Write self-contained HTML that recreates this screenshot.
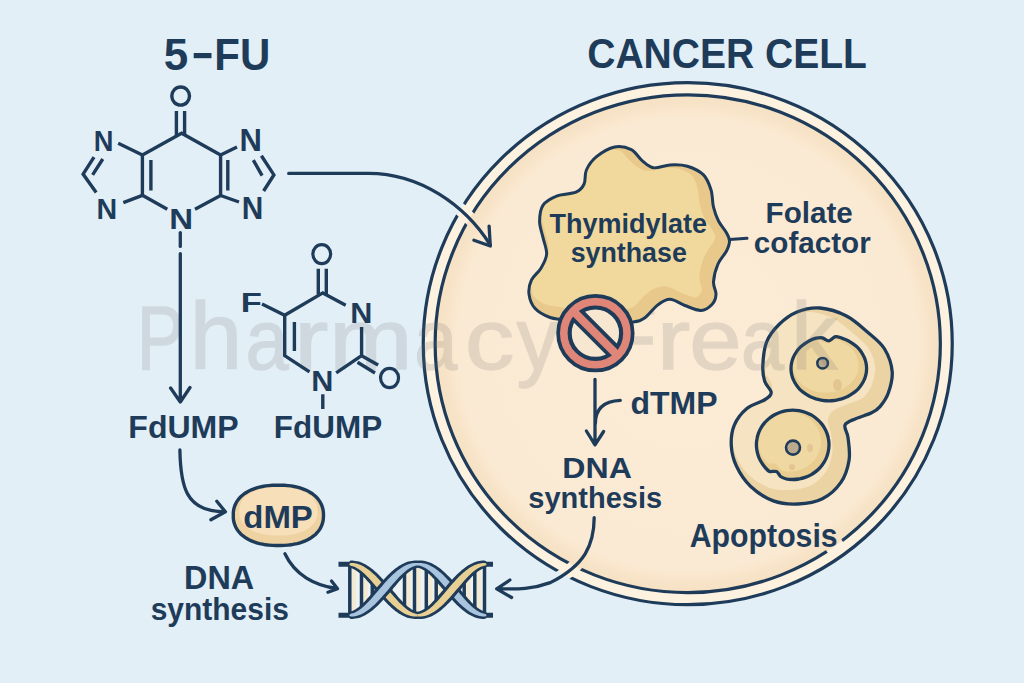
<!DOCTYPE html>
<html><head><meta charset="utf-8"><style>
html,body{margin:0;padding:0;width:1024px;height:683px;overflow:hidden;background:#e3eff6;}
svg{display:block;}
text{font-family:"Liberation Sans",sans-serif;}
</style></head><body>
<svg width="1024" height="683" viewBox="0 0 1024 683">
<defs>
<mask id="arrowKnock" maskUnits="userSpaceOnUse" x="0" y="0" width="1024" height="683">
<rect x="0" y="0" width="1024" height="683" fill="#fff"/>
<path d="M288.7,173.4 L368.4,173.4 C420,173.4 465,205 490.3,244" fill="none" stroke="#000" stroke-width="13"/>
<path d="M594.2,517.6 C594,545 585,565 550.3,582.6 C530,590 515,589 497.6,588.8" fill="none" stroke="#000" stroke-width="13"/>
<circle cx="834.5" cy="546" r="9.5" fill="#000"/>
</mask>
<clipPath id="blobClip"><path d="M586.4,170.0 C588.5,165.4 591.8,160.5 596.5,156.7 C601.2,152.9 608.8,148.2 614.6,147.0 C620.4,145.8 626.7,147.4 631.3,149.7 C635.9,152.0 638.7,157.9 642.4,160.9 C646.1,163.9 648.9,167.1 653.5,167.8 C658.1,168.5 664.4,165.2 670.0,164.9 C675.6,164.6 681.8,164.5 687.4,166.2 C693.0,167.9 699.6,171.0 703.5,174.9 C707.4,178.8 709.3,184.4 711.0,189.8 C712.7,195.2 712.2,202.0 713.5,207.2 C714.8,212.4 716.4,216.9 718.5,221.0 C720.6,225.1 724.2,228.7 726.0,232.0 C727.8,235.3 729.4,237.8 729.5,241.0 C729.6,244.2 728.4,247.2 726.5,251.0 C724.6,254.8 720.2,258.9 718.0,264.0 C715.8,269.1 713.8,276.8 713.5,281.8 C713.2,286.9 716.2,290.6 716.0,294.3 C715.8,298.0 714.7,301.5 712.2,304.2 C709.7,306.9 705.5,310.2 701.0,310.4 C696.5,310.6 690.1,307.4 684.9,305.5 C679.7,303.6 674.6,299.4 670.0,299.3 C665.4,299.2 661.7,302.0 657.5,305.1 C653.3,308.2 648.9,315.1 644.6,318.0 C640.3,320.9 639.5,321.0 631.7,322.3 C623.9,323.6 609.2,326.4 598.0,326.0 C586.8,325.6 572.2,321.3 564.2,319.9 C556.2,318.5 555.0,319.4 550.1,317.5 C545.2,315.6 538.4,312.1 534.9,308.2 C531.4,304.3 529.6,298.8 529.0,294.1 C528.4,289.4 529.4,284.4 531.4,280.1 C533.4,275.8 538.3,272.7 540.8,268.4 C543.3,264.1 546.2,259.4 546.6,254.3 C547.0,249.2 544.3,243.4 543.1,237.9 C541.9,232.4 539.6,227.0 539.6,221.5 C539.6,216.0 540.2,209.4 543.1,205.1 C546.0,200.8 551.7,198.0 557.2,195.8 C562.7,193.7 571.4,194.2 575.9,192.2 C580.4,190.2 582.4,187.7 584.1,184.0 C585.9,180.3 584.3,174.6 586.4,170.0Z"/></clipPath>
<clipPath id="cellClip"><path d="M820.0,308.0 C828.2,308.7 838.5,311.9 846.5,316.0 C854.5,320.1 861.6,327.0 868.0,332.5 C874.4,338.0 880.6,342.4 884.6,349.0 C888.6,355.6 891.6,364.5 892.2,371.8 C892.8,379.1 890.4,386.9 888.4,392.7 C886.4,398.5 882.8,403.2 880.0,406.6 C877.2,410.0 875.7,410.8 871.6,412.8 C867.5,414.9 859.6,416.8 855.2,418.9 C850.8,420.9 846.2,422.0 845.0,425.1 C843.8,428.2 847.3,431.6 848.0,437.4 C848.7,443.2 850.3,452.4 849.1,459.9 C847.9,467.4 845.4,475.9 840.9,482.4 C836.4,488.9 829.6,495.2 822.4,498.8 C815.2,502.4 806.1,503.6 797.9,504.0 C789.7,504.4 781.2,503.8 773.3,500.9 C765.4,498.0 756.9,492.3 750.7,486.5 C744.6,480.7 739.6,472.8 736.4,466.0 C733.2,459.2 731.6,452.4 731.3,445.6 C730.9,438.8 731.8,431.2 734.3,425.1 C736.8,419.0 741.5,413.0 746.6,408.7 C751.7,404.4 761.0,402.2 765.1,399.5 C769.2,396.8 771.3,395.3 771.2,392.3 C771.1,389.3 766.1,385.7 764.7,381.3 C763.3,376.9 762.5,372.7 762.8,366.1 C763.1,359.6 763.9,348.9 766.6,342.0 C769.3,335.1 773.9,329.5 779.0,324.5 C784.1,319.5 790.2,314.8 797.0,312.0 C803.8,309.2 811.8,307.3 820.0,308.0Z"/></clipPath>
</defs>
<rect width="1024" height="683" fill="#e3eff6"/>
<radialGradient id="cellGrad" cx="0.5" cy="0.5" r="0.5">
<stop offset="0" stop-color="#fcebd5"/><stop offset="0.91" stop-color="#fbead3"/><stop offset="0.965" stop-color="#f7e3c7"/><stop offset="1" stop-color="#f6e1c3"/></radialGradient>
<ellipse cx="687.75" cy="343.7" rx="264.5" ry="261" fill="#fdf1e0"/>
<ellipse cx="687.75" cy="343.7" rx="252.6" ry="248.9" fill="url(#cellGrad)"/>
<g mask="url(#arrowKnock)" fill="none" stroke="#1e3c5a" stroke-width="3.2">
<ellipse cx="687.75" cy="343.7" rx="264.5" ry="261"/>
<ellipse cx="687.75" cy="343.7" rx="252.6" ry="248.9"/>
</g>
<path d="M820.0,308.0 C828.2,308.7 838.5,311.9 846.5,316.0 C854.5,320.1 861.6,327.0 868.0,332.5 C874.4,338.0 880.6,342.4 884.6,349.0 C888.6,355.6 891.6,364.5 892.2,371.8 C892.8,379.1 890.4,386.9 888.4,392.7 C886.4,398.5 882.8,403.2 880.0,406.6 C877.2,410.0 875.7,410.8 871.6,412.8 C867.5,414.9 859.6,416.8 855.2,418.9 C850.8,420.9 846.2,422.0 845.0,425.1 C843.8,428.2 847.3,431.6 848.0,437.4 C848.7,443.2 850.3,452.4 849.1,459.9 C847.9,467.4 845.4,475.9 840.9,482.4 C836.4,488.9 829.6,495.2 822.4,498.8 C815.2,502.4 806.1,503.6 797.9,504.0 C789.7,504.4 781.2,503.8 773.3,500.9 C765.4,498.0 756.9,492.3 750.7,486.5 C744.6,480.7 739.6,472.8 736.4,466.0 C733.2,459.2 731.6,452.4 731.3,445.6 C730.9,438.8 731.8,431.2 734.3,425.1 C736.8,419.0 741.5,413.0 746.6,408.7 C751.7,404.4 761.0,402.2 765.1,399.5 C769.2,396.8 771.3,395.3 771.2,392.3 C771.1,389.3 766.1,385.7 764.7,381.3 C763.3,376.9 762.5,372.7 762.8,366.1 C763.1,359.6 763.9,348.9 766.6,342.0 C769.3,335.1 773.9,329.5 779.0,324.5 C784.1,319.5 790.2,314.8 797.0,312.0 C803.8,309.2 811.8,307.3 820.0,308.0Z" fill="#f5e3c1"/>
<g clip-path="url(#cellClip)"><path d="M820.0,308.0 C828.2,308.7 838.5,311.9 846.5,316.0 C854.5,320.1 861.6,327.0 868.0,332.5 C874.4,338.0 880.6,342.4 884.6,349.0 C888.6,355.6 891.6,364.5 892.2,371.8 C892.8,379.1 890.4,386.9 888.4,392.7 C886.4,398.5 882.8,403.2 880.0,406.6 C877.2,410.0 875.7,410.8 871.6,412.8 C867.5,414.9 859.6,416.8 855.2,418.9 C850.8,420.9 846.2,422.0 845.0,425.1 C843.8,428.2 847.3,431.6 848.0,437.4 C848.7,443.2 850.3,452.4 849.1,459.9 C847.9,467.4 845.4,475.9 840.9,482.4 C836.4,488.9 829.6,495.2 822.4,498.8 C815.2,502.4 806.1,503.6 797.9,504.0 C789.7,504.4 781.2,503.8 773.3,500.9 C765.4,498.0 756.9,492.3 750.7,486.5 C744.6,480.7 739.6,472.8 736.4,466.0 C733.2,459.2 731.6,452.4 731.3,445.6 C730.9,438.8 731.8,431.2 734.3,425.1 C736.8,419.0 741.5,413.0 746.6,408.7 C751.7,404.4 761.0,402.2 765.1,399.5 C769.2,396.8 771.3,395.3 771.2,392.3 C771.1,389.3 766.1,385.7 764.7,381.3 C763.3,376.9 762.5,372.7 762.8,366.1 C763.1,359.6 763.9,348.9 766.6,342.0 C769.3,335.1 773.9,329.5 779.0,324.5 C784.1,319.5 790.2,314.8 797.0,312.0 C803.8,309.2 811.8,307.3 820.0,308.0Z" fill="none" stroke="#ecd3a3" stroke-width="18" transform="translate(-8,-5)"/></g>
<path d="M820.0,308.0 C828.2,308.7 838.5,311.9 846.5,316.0 C854.5,320.1 861.6,327.0 868.0,332.5 C874.4,338.0 880.6,342.4 884.6,349.0 C888.6,355.6 891.6,364.5 892.2,371.8 C892.8,379.1 890.4,386.9 888.4,392.7 C886.4,398.5 882.8,403.2 880.0,406.6 C877.2,410.0 875.7,410.8 871.6,412.8 C867.5,414.9 859.6,416.8 855.2,418.9 C850.8,420.9 846.2,422.0 845.0,425.1 C843.8,428.2 847.3,431.6 848.0,437.4 C848.7,443.2 850.3,452.4 849.1,459.9 C847.9,467.4 845.4,475.9 840.9,482.4 C836.4,488.9 829.6,495.2 822.4,498.8 C815.2,502.4 806.1,503.6 797.9,504.0 C789.7,504.4 781.2,503.8 773.3,500.9 C765.4,498.0 756.9,492.3 750.7,486.5 C744.6,480.7 739.6,472.8 736.4,466.0 C733.2,459.2 731.6,452.4 731.3,445.6 C730.9,438.8 731.8,431.2 734.3,425.1 C736.8,419.0 741.5,413.0 746.6,408.7 C751.7,404.4 761.0,402.2 765.1,399.5 C769.2,396.8 771.3,395.3 771.2,392.3 C771.1,389.3 766.1,385.7 764.7,381.3 C763.3,376.9 762.5,372.7 762.8,366.1 C763.1,359.6 763.9,348.9 766.6,342.0 C769.3,335.1 773.9,329.5 779.0,324.5 C784.1,319.5 790.2,314.8 797.0,312.0 C803.8,309.2 811.8,307.3 820.0,308.0Z" fill="none" stroke="#1e3c5a" stroke-width="3.3"/>
<clipPath id="nucT"><path d="M866.6,368.5 C866.6,370.4 866.4,372.3 866.0,374.1 C865.6,376.0 865.1,377.8 864.3,379.5 C863.6,381.3 862.6,383.0 861.5,384.6 C860.4,386.3 859.2,387.8 857.8,389.3 C856.4,390.7 854.8,392.0 853.1,393.2 C851.4,394.4 849.6,395.5 847.7,396.5 C845.8,397.4 843.8,398.2 841.7,398.9 C839.7,399.5 837.5,400.0 835.4,400.3 C833.2,400.6 831.0,400.8 828.8,400.8 C826.6,400.8 824.4,400.6 822.2,400.3 C820.1,400.0 817.9,399.5 815.9,398.9 C813.8,398.2 811.8,397.4 809.9,396.5 C808.0,395.5 806.2,394.4 804.5,393.2 C802.8,392.0 801.2,390.7 799.8,389.3 C798.4,387.8 797.2,386.3 796.1,384.6 C795.0,383.0 794.0,381.3 793.3,379.5 C792.5,377.8 792.0,376.0 791.6,374.1 C791.2,372.3 791.0,370.4 791.0,368.5 C791.0,366.6 791.2,364.7 791.6,362.9 C792.0,361.0 792.5,359.2 793.3,357.5 C794.0,355.7 795.0,354.0 796.1,352.4 C797.2,350.7 798.4,349.2 799.8,347.7 C801.2,346.3 802.8,345.0 804.5,343.8 C806.2,342.6 808.0,341.5 809.9,340.5 C811.8,339.6 813.8,338.6 815.9,338.1 C818.0,337.7 820.3,337.4 822.4,337.8 C824.6,338.3 826.6,341.0 828.8,340.8 C831.0,340.6 833.2,337.1 835.4,336.7 C837.5,336.3 839.7,337.5 841.7,338.1 C843.8,338.8 845.8,339.6 847.7,340.5 C849.6,341.5 851.4,342.6 853.1,343.8 C854.8,345.0 856.4,346.3 857.8,347.7 C859.2,349.2 860.4,350.7 861.5,352.3 C862.6,354.0 863.6,355.7 864.3,357.5 C865.1,359.2 865.6,361.0 866.0,362.9 C866.4,364.7 866.6,366.6 866.6,368.5Z"/></clipPath>
<clipPath id="nucB"><path d="M829.0,444.8 C829.0,446.8 828.8,448.8 828.4,450.8 C828.1,452.8 827.5,454.8 826.8,456.7 C826.1,458.6 825.2,460.4 824.1,462.2 C823.1,463.9 821.9,465.6 820.5,467.1 C819.2,468.6 817.6,470.1 816.0,471.4 C814.4,472.7 812.7,473.8 810.9,474.9 C809.0,475.9 807.1,476.7 805.1,477.4 C803.1,478.1 801.1,478.6 799.0,479.0 C796.9,479.3 794.8,479.5 792.7,479.5 C790.6,479.5 788.4,479.5 786.4,479.0 C784.4,478.5 782.3,477.7 780.6,476.5 C779.0,475.3 778.3,472.4 776.5,471.6 C774.6,470.7 771.3,472.1 769.4,471.4 C767.4,470.6 766.2,468.6 764.9,467.1 C763.5,465.6 762.3,463.9 761.3,462.2 C760.2,460.4 759.3,458.6 758.6,456.7 C757.9,454.8 757.3,452.8 757.0,450.8 C756.6,448.8 756.4,446.8 756.4,444.8 C756.4,442.8 756.6,440.8 757.0,438.8 C757.3,436.8 757.9,434.8 758.6,432.9 C759.3,431.0 760.2,429.2 761.3,427.4 C762.3,425.7 763.5,424.0 764.9,422.5 C766.2,421.0 767.8,419.5 769.4,418.2 C771.0,416.9 772.7,415.8 774.6,414.7 C776.4,413.7 778.3,412.9 780.3,412.2 C782.3,411.5 784.3,411.0 786.4,410.6 C788.5,410.3 790.6,410.1 792.7,410.1 C794.8,410.1 796.9,410.3 799.0,410.6 C801.1,411.0 803.1,411.5 805.1,412.2 C807.1,412.9 809.0,413.7 810.9,414.7 C812.7,415.8 814.4,416.9 816.0,418.2 C817.6,419.5 819.2,421.0 820.5,422.5 C821.9,424.0 823.1,425.7 824.1,427.4 C825.2,429.2 826.1,431.0 826.8,432.9 C827.5,434.8 828.1,436.8 828.4,438.8 C828.8,440.8 829.0,442.8 829.0,444.8Z"/></clipPath>
<path d="M866.6,368.5 C866.6,370.4 866.4,372.3 866.0,374.1 C865.6,376.0 865.1,377.8 864.3,379.5 C863.6,381.3 862.6,383.0 861.5,384.6 C860.4,386.3 859.2,387.8 857.8,389.3 C856.4,390.7 854.8,392.0 853.1,393.2 C851.4,394.4 849.6,395.5 847.7,396.5 C845.8,397.4 843.8,398.2 841.7,398.9 C839.7,399.5 837.5,400.0 835.4,400.3 C833.2,400.6 831.0,400.8 828.8,400.8 C826.6,400.8 824.4,400.6 822.2,400.3 C820.1,400.0 817.9,399.5 815.9,398.9 C813.8,398.2 811.8,397.4 809.9,396.5 C808.0,395.5 806.2,394.4 804.5,393.2 C802.8,392.0 801.2,390.7 799.8,389.3 C798.4,387.8 797.2,386.3 796.1,384.6 C795.0,383.0 794.0,381.3 793.3,379.5 C792.5,377.8 792.0,376.0 791.6,374.1 C791.2,372.3 791.0,370.4 791.0,368.5 C791.0,366.6 791.2,364.7 791.6,362.9 C792.0,361.0 792.5,359.2 793.3,357.5 C794.0,355.7 795.0,354.0 796.1,352.4 C797.2,350.7 798.4,349.2 799.8,347.7 C801.2,346.3 802.8,345.0 804.5,343.8 C806.2,342.6 808.0,341.5 809.9,340.5 C811.8,339.6 813.8,338.6 815.9,338.1 C818.0,337.7 820.3,337.4 822.4,337.8 C824.6,338.3 826.6,341.0 828.8,340.8 C831.0,340.6 833.2,337.1 835.4,336.7 C837.5,336.3 839.7,337.5 841.7,338.1 C843.8,338.8 845.8,339.6 847.7,340.5 C849.6,341.5 851.4,342.6 853.1,343.8 C854.8,345.0 856.4,346.3 857.8,347.7 C859.2,349.2 860.4,350.7 861.5,352.3 C862.6,354.0 863.6,355.7 864.3,357.5 C865.1,359.2 865.6,361.0 866.0,362.9 C866.4,364.7 866.6,366.6 866.6,368.5Z" fill="#f0d8a2"/>
<g clip-path="url(#nucT)"><path d="M866.6,368.5 C866.6,370.4 866.4,372.3 866.0,374.1 C865.6,376.0 865.1,377.8 864.3,379.5 C863.6,381.3 862.6,383.0 861.5,384.6 C860.4,386.3 859.2,387.8 857.8,389.3 C856.4,390.7 854.8,392.0 853.1,393.2 C851.4,394.4 849.6,395.5 847.7,396.5 C845.8,397.4 843.8,398.2 841.7,398.9 C839.7,399.5 837.5,400.0 835.4,400.3 C833.2,400.6 831.0,400.8 828.8,400.8 C826.6,400.8 824.4,400.6 822.2,400.3 C820.1,400.0 817.9,399.5 815.9,398.9 C813.8,398.2 811.8,397.4 809.9,396.5 C808.0,395.5 806.2,394.4 804.5,393.2 C802.8,392.0 801.2,390.7 799.8,389.3 C798.4,387.8 797.2,386.3 796.1,384.6 C795.0,383.0 794.0,381.3 793.3,379.5 C792.5,377.8 792.0,376.0 791.6,374.1 C791.2,372.3 791.0,370.4 791.0,368.5 C791.0,366.6 791.2,364.7 791.6,362.9 C792.0,361.0 792.5,359.2 793.3,357.5 C794.0,355.7 795.0,354.0 796.1,352.4 C797.2,350.7 798.4,349.2 799.8,347.7 C801.2,346.3 802.8,345.0 804.5,343.8 C806.2,342.6 808.0,341.5 809.9,340.5 C811.8,339.6 813.8,338.6 815.9,338.1 C818.0,337.7 820.3,337.4 822.4,337.8 C824.6,338.3 826.6,341.0 828.8,340.8 C831.0,340.6 833.2,337.1 835.4,336.7 C837.5,336.3 839.7,337.5 841.7,338.1 C843.8,338.8 845.8,339.6 847.7,340.5 C849.6,341.5 851.4,342.6 853.1,343.8 C854.8,345.0 856.4,346.3 857.8,347.7 C859.2,349.2 860.4,350.7 861.5,352.3 C862.6,354.0 863.6,355.7 864.3,357.5 C865.1,359.2 865.6,361.0 866.0,362.9 C866.4,364.7 866.6,366.6 866.6,368.5Z" fill="none" stroke="#e9cc90" stroke-width="10" transform="translate(-3,-3)"/>
<ellipse cx="837.5" cy="385" rx="4.5" ry="6" fill="#e2c590"/></g>
<path d="M866.6,368.5 C866.6,370.4 866.4,372.3 866.0,374.1 C865.6,376.0 865.1,377.8 864.3,379.5 C863.6,381.3 862.6,383.0 861.5,384.6 C860.4,386.3 859.2,387.8 857.8,389.3 C856.4,390.7 854.8,392.0 853.1,393.2 C851.4,394.4 849.6,395.5 847.7,396.5 C845.8,397.4 843.8,398.2 841.7,398.9 C839.7,399.5 837.5,400.0 835.4,400.3 C833.2,400.6 831.0,400.8 828.8,400.8 C826.6,400.8 824.4,400.6 822.2,400.3 C820.1,400.0 817.9,399.5 815.9,398.9 C813.8,398.2 811.8,397.4 809.9,396.5 C808.0,395.5 806.2,394.4 804.5,393.2 C802.8,392.0 801.2,390.7 799.8,389.3 C798.4,387.8 797.2,386.3 796.1,384.6 C795.0,383.0 794.0,381.3 793.3,379.5 C792.5,377.8 792.0,376.0 791.6,374.1 C791.2,372.3 791.0,370.4 791.0,368.5 C791.0,366.6 791.2,364.7 791.6,362.9 C792.0,361.0 792.5,359.2 793.3,357.5 C794.0,355.7 795.0,354.0 796.1,352.4 C797.2,350.7 798.4,349.2 799.8,347.7 C801.2,346.3 802.8,345.0 804.5,343.8 C806.2,342.6 808.0,341.5 809.9,340.5 C811.8,339.6 813.8,338.6 815.9,338.1 C818.0,337.7 820.3,337.4 822.4,337.8 C824.6,338.3 826.6,341.0 828.8,340.8 C831.0,340.6 833.2,337.1 835.4,336.7 C837.5,336.3 839.7,337.5 841.7,338.1 C843.8,338.8 845.8,339.6 847.7,340.5 C849.6,341.5 851.4,342.6 853.1,343.8 C854.8,345.0 856.4,346.3 857.8,347.7 C859.2,349.2 860.4,350.7 861.5,352.3 C862.6,354.0 863.6,355.7 864.3,357.5 C865.1,359.2 865.6,361.0 866.0,362.9 C866.4,364.7 866.6,366.6 866.6,368.5Z" fill="none" stroke="#1e3c5a" stroke-width="3.3"/>
<circle cx="822.6" cy="363.2" r="5.3" fill="#bcaa8e" stroke="#1e3c5a" stroke-width="2.5"/>
<path d="M829.0,444.8 C829.0,446.8 828.8,448.8 828.4,450.8 C828.1,452.8 827.5,454.8 826.8,456.7 C826.1,458.6 825.2,460.4 824.1,462.2 C823.1,463.9 821.9,465.6 820.5,467.1 C819.2,468.6 817.6,470.1 816.0,471.4 C814.4,472.7 812.7,473.8 810.9,474.9 C809.0,475.9 807.1,476.7 805.1,477.4 C803.1,478.1 801.1,478.6 799.0,479.0 C796.9,479.3 794.8,479.5 792.7,479.5 C790.6,479.5 788.4,479.5 786.4,479.0 C784.4,478.5 782.3,477.7 780.6,476.5 C779.0,475.3 778.3,472.4 776.5,471.6 C774.6,470.7 771.3,472.1 769.4,471.4 C767.4,470.6 766.2,468.6 764.9,467.1 C763.5,465.6 762.3,463.9 761.3,462.2 C760.2,460.4 759.3,458.6 758.6,456.7 C757.9,454.8 757.3,452.8 757.0,450.8 C756.6,448.8 756.4,446.8 756.4,444.8 C756.4,442.8 756.6,440.8 757.0,438.8 C757.3,436.8 757.9,434.8 758.6,432.9 C759.3,431.0 760.2,429.2 761.3,427.4 C762.3,425.7 763.5,424.0 764.9,422.5 C766.2,421.0 767.8,419.5 769.4,418.2 C771.0,416.9 772.7,415.8 774.6,414.7 C776.4,413.7 778.3,412.9 780.3,412.2 C782.3,411.5 784.3,411.0 786.4,410.6 C788.5,410.3 790.6,410.1 792.7,410.1 C794.8,410.1 796.9,410.3 799.0,410.6 C801.1,411.0 803.1,411.5 805.1,412.2 C807.1,412.9 809.0,413.7 810.9,414.7 C812.7,415.8 814.4,416.9 816.0,418.2 C817.6,419.5 819.2,421.0 820.5,422.5 C821.9,424.0 823.1,425.7 824.1,427.4 C825.2,429.2 826.1,431.0 826.8,432.9 C827.5,434.8 828.1,436.8 828.4,438.8 C828.8,440.8 829.0,442.8 829.0,444.8Z" fill="#f0d8a2"/>
<g clip-path="url(#nucB)"><path d="M829.0,444.8 C829.0,446.8 828.8,448.8 828.4,450.8 C828.1,452.8 827.5,454.8 826.8,456.7 C826.1,458.6 825.2,460.4 824.1,462.2 C823.1,463.9 821.9,465.6 820.5,467.1 C819.2,468.6 817.6,470.1 816.0,471.4 C814.4,472.7 812.7,473.8 810.9,474.9 C809.0,475.9 807.1,476.7 805.1,477.4 C803.1,478.1 801.1,478.6 799.0,479.0 C796.9,479.3 794.8,479.5 792.7,479.5 C790.6,479.5 788.4,479.5 786.4,479.0 C784.4,478.5 782.3,477.7 780.6,476.5 C779.0,475.3 778.3,472.4 776.5,471.6 C774.6,470.7 771.3,472.1 769.4,471.4 C767.4,470.6 766.2,468.6 764.9,467.1 C763.5,465.6 762.3,463.9 761.3,462.2 C760.2,460.4 759.3,458.6 758.6,456.7 C757.9,454.8 757.3,452.8 757.0,450.8 C756.6,448.8 756.4,446.8 756.4,444.8 C756.4,442.8 756.6,440.8 757.0,438.8 C757.3,436.8 757.9,434.8 758.6,432.9 C759.3,431.0 760.2,429.2 761.3,427.4 C762.3,425.7 763.5,424.0 764.9,422.5 C766.2,421.0 767.8,419.5 769.4,418.2 C771.0,416.9 772.7,415.8 774.6,414.7 C776.4,413.7 778.3,412.9 780.3,412.2 C782.3,411.5 784.3,411.0 786.4,410.6 C788.5,410.3 790.6,410.1 792.7,410.1 C794.8,410.1 796.9,410.3 799.0,410.6 C801.1,411.0 803.1,411.5 805.1,412.2 C807.1,412.9 809.0,413.7 810.9,414.7 C812.7,415.8 814.4,416.9 816.0,418.2 C817.6,419.5 819.2,421.0 820.5,422.5 C821.9,424.0 823.1,425.7 824.1,427.4 C825.2,429.2 826.1,431.0 826.8,432.9 C827.5,434.8 828.1,436.8 828.4,438.8 C828.8,440.8 829.0,442.8 829.0,444.8Z" fill="none" stroke="#e9cc90" stroke-width="10" transform="translate(-3,-3)"/>
<ellipse cx="810" cy="448" rx="3" ry="4" fill="#e2c590"/><ellipse cx="792" cy="467" rx="3" ry="3" fill="#e2c590"/></g>
<path d="M829.0,444.8 C829.0,446.8 828.8,448.8 828.4,450.8 C828.1,452.8 827.5,454.8 826.8,456.7 C826.1,458.6 825.2,460.4 824.1,462.2 C823.1,463.9 821.9,465.6 820.5,467.1 C819.2,468.6 817.6,470.1 816.0,471.4 C814.4,472.7 812.7,473.8 810.9,474.9 C809.0,475.9 807.1,476.7 805.1,477.4 C803.1,478.1 801.1,478.6 799.0,479.0 C796.9,479.3 794.8,479.5 792.7,479.5 C790.6,479.5 788.4,479.5 786.4,479.0 C784.4,478.5 782.3,477.7 780.6,476.5 C779.0,475.3 778.3,472.4 776.5,471.6 C774.6,470.7 771.3,472.1 769.4,471.4 C767.4,470.6 766.2,468.6 764.9,467.1 C763.5,465.6 762.3,463.9 761.3,462.2 C760.2,460.4 759.3,458.6 758.6,456.7 C757.9,454.8 757.3,452.8 757.0,450.8 C756.6,448.8 756.4,446.8 756.4,444.8 C756.4,442.8 756.6,440.8 757.0,438.8 C757.3,436.8 757.9,434.8 758.6,432.9 C759.3,431.0 760.2,429.2 761.3,427.4 C762.3,425.7 763.5,424.0 764.9,422.5 C766.2,421.0 767.8,419.5 769.4,418.2 C771.0,416.9 772.7,415.8 774.6,414.7 C776.4,413.7 778.3,412.9 780.3,412.2 C782.3,411.5 784.3,411.0 786.4,410.6 C788.5,410.3 790.6,410.1 792.7,410.1 C794.8,410.1 796.9,410.3 799.0,410.6 C801.1,411.0 803.1,411.5 805.1,412.2 C807.1,412.9 809.0,413.7 810.9,414.7 C812.7,415.8 814.4,416.9 816.0,418.2 C817.6,419.5 819.2,421.0 820.5,422.5 C821.9,424.0 823.1,425.7 824.1,427.4 C825.2,429.2 826.1,431.0 826.8,432.9 C827.5,434.8 828.1,436.8 828.4,438.8 C828.8,440.8 829.0,442.8 829.0,444.8Z" fill="none" stroke="#1e3c5a" stroke-width="3.3"/>
<circle cx="793" cy="447.6" r="7" fill="#bcaa8e" stroke="#1e3c5a" stroke-width="2.6"/>
<g opacity="0.17">
<text transform="translate(142.55,368.50) scale(0.7700,1)" x="-7.32" y="0" font-size="91.52" font-weight="normal" fill="#6e6e6e" stroke="#6e6e6e" stroke-width="1.5">P</text>
<text transform="translate(196.25,368.50) scale(1.0016,1)" x="-6.59" y="0" font-size="94.14" font-weight="normal" fill="#6e6e6e" stroke="#6e6e6e" stroke-width="1.5">h</text>
<text transform="translate(249.05,368.50) scale(0.9043,1)" x="-3.85" y="0" font-size="85.65" font-weight="normal" fill="#6e6e6e" stroke="#6e6e6e" stroke-width="1.5">a</text>
<text transform="translate(300.75,368.50) scale(1.1909,1)" x="-5.57" y="0" font-size="85.65" font-weight="normal" fill="#6e6e6e" stroke="#6e6e6e" stroke-width="1.5">r</text>
<text transform="translate(335.75,368.50) scale(1.1659,1)" x="-5.57" y="0" font-size="85.65" font-weight="normal" fill="#6e6e6e" stroke="#6e6e6e" stroke-width="1.5">m</text>
<text transform="translate(417.75,368.50) scale(0.9043,1)" x="-3.85" y="0" font-size="85.65" font-weight="normal" fill="#6e6e6e" stroke="#6e6e6e" stroke-width="1.5">a</text>
<text transform="translate(469.35,368.50) scale(1.1513,1)" x="-3.85" y="0" font-size="85.65" font-weight="normal" fill="#6e6e6e" stroke="#6e6e6e" stroke-width="1.5">c</text>
<text transform="translate(517.15,368.50) scale(0.9614,1)" x="-0.44" y="0" font-size="88.10" font-weight="normal" fill="#6e6e6e" stroke="#6e6e6e" stroke-width="1.5">y</text>
<text transform="translate(596.75,368.50) scale(1.2599,1)" x="-7.32" y="0" font-size="91.52" font-weight="normal" fill="#6e6e6e" stroke="#6e6e6e" stroke-width="1.5">F</text>
<text transform="translate(663.45,368.50) scale(1.1582,1)" x="-5.57" y="0" font-size="85.65" font-weight="normal" fill="#6e6e6e" stroke="#6e6e6e" stroke-width="1.5">r</text>
<text transform="translate(693.75,368.50) scale(1.0897,1)" x="-3.85" y="0" font-size="85.65" font-weight="normal" fill="#6e6e6e" stroke="#6e6e6e" stroke-width="1.5">e</text>
<text transform="translate(744.50,368.50) scale(0.9054,1)" x="-3.85" y="0" font-size="85.65" font-weight="normal" fill="#6e6e6e" stroke="#6e6e6e" stroke-width="1.5">a</text>
<text transform="translate(797.25,368.50) scale(0.9768,1)" x="-6.12" y="0" font-size="94.14" font-weight="normal" fill="#6e6e6e" stroke="#6e6e6e" stroke-width="1.5">k</text>
</g>
<path d="M586.4,170.0 C588.5,165.4 591.8,160.5 596.5,156.7 C601.2,152.9 608.8,148.2 614.6,147.0 C620.4,145.8 626.7,147.4 631.3,149.7 C635.9,152.0 638.7,157.9 642.4,160.9 C646.1,163.9 648.9,167.1 653.5,167.8 C658.1,168.5 664.4,165.2 670.0,164.9 C675.6,164.6 681.8,164.5 687.4,166.2 C693.0,167.9 699.6,171.0 703.5,174.9 C707.4,178.8 709.3,184.4 711.0,189.8 C712.7,195.2 712.2,202.0 713.5,207.2 C714.8,212.4 716.4,216.9 718.5,221.0 C720.6,225.1 724.2,228.7 726.0,232.0 C727.8,235.3 729.4,237.8 729.5,241.0 C729.6,244.2 728.4,247.2 726.5,251.0 C724.6,254.8 720.2,258.9 718.0,264.0 C715.8,269.1 713.8,276.8 713.5,281.8 C713.2,286.9 716.2,290.6 716.0,294.3 C715.8,298.0 714.7,301.5 712.2,304.2 C709.7,306.9 705.5,310.2 701.0,310.4 C696.5,310.6 690.1,307.4 684.9,305.5 C679.7,303.6 674.6,299.4 670.0,299.3 C665.4,299.2 661.7,302.0 657.5,305.1 C653.3,308.2 648.9,315.1 644.6,318.0 C640.3,320.9 639.5,321.0 631.7,322.3 C623.9,323.6 609.2,326.4 598.0,326.0 C586.8,325.6 572.2,321.3 564.2,319.9 C556.2,318.5 555.0,319.4 550.1,317.5 C545.2,315.6 538.4,312.1 534.9,308.2 C531.4,304.3 529.6,298.8 529.0,294.1 C528.4,289.4 529.4,284.4 531.4,280.1 C533.4,275.8 538.3,272.7 540.8,268.4 C543.3,264.1 546.2,259.4 546.6,254.3 C547.0,249.2 544.3,243.4 543.1,237.9 C541.9,232.4 539.6,227.0 539.6,221.5 C539.6,216.0 540.2,209.4 543.1,205.1 C546.0,200.8 551.7,198.0 557.2,195.8 C562.7,193.7 571.4,194.2 575.9,192.2 C580.4,190.2 582.4,187.7 584.1,184.0 C585.9,180.3 584.3,174.6 586.4,170.0Z" fill="#f1d89c"/>
<g clip-path="url(#blobClip)">
<path d="M586.4,170.0 C588.5,165.4 591.8,160.5 596.5,156.7 C601.2,152.9 608.8,148.2 614.6,147.0 C620.4,145.8 626.7,147.4 631.3,149.7 C635.9,152.0 638.7,157.9 642.4,160.9 C646.1,163.9 648.9,167.1 653.5,167.8 C658.1,168.5 664.4,165.2 670.0,164.9 C675.6,164.6 681.8,164.5 687.4,166.2 C693.0,167.9 699.6,171.0 703.5,174.9 C707.4,178.8 709.3,184.4 711.0,189.8 C712.7,195.2 712.2,202.0 713.5,207.2 C714.8,212.4 716.4,216.9 718.5,221.0 C720.6,225.1 724.2,228.7 726.0,232.0 C727.8,235.3 729.4,237.8 729.5,241.0 C729.6,244.2 728.4,247.2 726.5,251.0 C724.6,254.8 720.2,258.9 718.0,264.0 C715.8,269.1 713.8,276.8 713.5,281.8 C713.2,286.9 716.2,290.6 716.0,294.3 C715.8,298.0 714.7,301.5 712.2,304.2 C709.7,306.9 705.5,310.2 701.0,310.4 C696.5,310.6 690.1,307.4 684.9,305.5 C679.7,303.6 674.6,299.4 670.0,299.3 C665.4,299.2 661.7,302.0 657.5,305.1 C653.3,308.2 648.9,315.1 644.6,318.0 C640.3,320.9 639.5,321.0 631.7,322.3 C623.9,323.6 609.2,326.4 598.0,326.0 C586.8,325.6 572.2,321.3 564.2,319.9 C556.2,318.5 555.0,319.4 550.1,317.5 C545.2,315.6 538.4,312.1 534.9,308.2 C531.4,304.3 529.6,298.8 529.0,294.1 C528.4,289.4 529.4,284.4 531.4,280.1 C533.4,275.8 538.3,272.7 540.8,268.4 C543.3,264.1 546.2,259.4 546.6,254.3 C547.0,249.2 544.3,243.4 543.1,237.9 C541.9,232.4 539.6,227.0 539.6,221.5 C539.6,216.0 540.2,209.4 543.1,205.1 C546.0,200.8 551.7,198.0 557.2,195.8 C562.7,193.7 571.4,194.2 575.9,192.2 C580.4,190.2 582.4,187.7 584.1,184.0 C585.9,180.3 584.3,174.6 586.4,170.0Z" fill="none" stroke="#e8c98b" stroke-width="16" transform="translate(-6,-5)"/>
</g>
<path d="M586.4,170.0 C588.5,165.4 591.8,160.5 596.5,156.7 C601.2,152.9 608.8,148.2 614.6,147.0 C620.4,145.8 626.7,147.4 631.3,149.7 C635.9,152.0 638.7,157.9 642.4,160.9 C646.1,163.9 648.9,167.1 653.5,167.8 C658.1,168.5 664.4,165.2 670.0,164.9 C675.6,164.6 681.8,164.5 687.4,166.2 C693.0,167.9 699.6,171.0 703.5,174.9 C707.4,178.8 709.3,184.4 711.0,189.8 C712.7,195.2 712.2,202.0 713.5,207.2 C714.8,212.4 716.4,216.9 718.5,221.0 C720.6,225.1 724.2,228.7 726.0,232.0 C727.8,235.3 729.4,237.8 729.5,241.0 C729.6,244.2 728.4,247.2 726.5,251.0 C724.6,254.8 720.2,258.9 718.0,264.0 C715.8,269.1 713.8,276.8 713.5,281.8 C713.2,286.9 716.2,290.6 716.0,294.3 C715.8,298.0 714.7,301.5 712.2,304.2 C709.7,306.9 705.5,310.2 701.0,310.4 C696.5,310.6 690.1,307.4 684.9,305.5 C679.7,303.6 674.6,299.4 670.0,299.3 C665.4,299.2 661.7,302.0 657.5,305.1 C653.3,308.2 648.9,315.1 644.6,318.0 C640.3,320.9 639.5,321.0 631.7,322.3 C623.9,323.6 609.2,326.4 598.0,326.0 C586.8,325.6 572.2,321.3 564.2,319.9 C556.2,318.5 555.0,319.4 550.1,317.5 C545.2,315.6 538.4,312.1 534.9,308.2 C531.4,304.3 529.6,298.8 529.0,294.1 C528.4,289.4 529.4,284.4 531.4,280.1 C533.4,275.8 538.3,272.7 540.8,268.4 C543.3,264.1 546.2,259.4 546.6,254.3 C547.0,249.2 544.3,243.4 543.1,237.9 C541.9,232.4 539.6,227.0 539.6,221.5 C539.6,216.0 540.2,209.4 543.1,205.1 C546.0,200.8 551.7,198.0 557.2,195.8 C562.7,193.7 571.4,194.2 575.9,192.2 C580.4,190.2 582.4,187.7 584.1,184.0 C585.9,180.3 584.3,174.6 586.4,170.0Z" fill="none" stroke="#1e3c5a" stroke-width="3"/>
<line x1="729.7" y1="239.6" x2="747" y2="238.3" stroke="#1e3c5a" stroke-width="3" stroke-linecap="round"/>
<circle cx="595.4" cy="333.2" r="31.5" fill="#f8e7d0"/>
<circle cx="595.4" cy="333.2" r="31.4" fill="none" stroke="#1e3c5a" stroke-width="15.5"/>
<line x1="576.5" y1="314.3" x2="614.3" y2="352.1" stroke="#1e3c5a" stroke-width="15.5"/>
<circle cx="595.4" cy="333.2" r="31.6" fill="none" stroke="#e08678" stroke-width="7.6"/>
<line x1="574" y1="311.8" x2="616.8" y2="354.6" stroke="#e08678" stroke-width="8"/>
<g fill="none" stroke="#1e3c5a" stroke-width="3.4" stroke-linecap="butt" stroke-linejoin="miter">
<path d="M176.4,111 L176.4,136 M184.6,111 L184.6,136"/>
<path d="M167.3,209.2 L142.4,195.3 L142.4,155 L181.6,133.3 L220.6,155 L220.6,195.5 L195,209.2"/>
<path d="M150.9,160 L150.9,190.5 M227.8,160 L227.8,190.5"/>
<path d="M118.2,143.3 L142.4,155 M94,157.2 L83.1,174.1 L96.2,192.4 M102.8,159 L92.6,174.8 M123.3,202.6 L142.4,195.3"/>
<path d="M237,146.9 L220.6,155 M261.4,155.8 L273.9,174.9 L263.6,191 M253.3,160.2 L262.1,175.6 M239,202 L220.6,195.5"/>
</g>
<ellipse cx="180.65" cy="96.05" rx="8.85" ry="9.05" fill="none" stroke="#1e3c5a" stroke-width="3.4"/>
<text transform="translate(95.50,150.60) scale(0.9185,1)" x="-1.93" y="0" font-size="29.71" font-weight="bold" fill="#1e3c5a" >N</text>
<text transform="translate(98.40,218.70) scale(0.9641,1)" x="-1.93" y="0" font-size="29.71" font-weight="bold" fill="#1e3c5a" >N</text>
<text transform="translate(241.60,150.70) scale(1.0048,1)" x="-2.01" y="0" font-size="30.87" font-weight="bold" fill="#1e3c5a" >N</text>
<text transform="translate(243.80,218.80) scale(0.9709,1)" x="-2.00" y="0" font-size="30.72" font-weight="bold" fill="#1e3c5a" >N</text>
<text transform="translate(171.40,229.00) scale(1.0964,1)" x="-1.96" y="0" font-size="30.14" font-weight="bold" fill="#1e3c5a" >N</text>
<g fill="none" stroke="#1e3c5a" stroke-width="3.4" stroke-linecap="butt">
<path d="M318.3,268.8 L318.3,294.5 M326.3,268.8 L326.3,294.5"/>
<path d="M262,304 L284.7,315.3 L322.8,292.9 L345.7,305.2"/>
<path d="M284.7,315.3 L284.7,355.6 L309.5,371.8 M294.4,322 L294.4,351"/>
<path d="M361.6,327.1 L361.6,355.7 L378.1,365 M357.5,362.3 L375,373 M361.6,355.7 L336.2,372.8"/>
<path d="M322.8,394.3 L322.8,409"/>
</g>
<ellipse cx="321.75" cy="254.1" rx="8.9" ry="9.45" fill="none" stroke="#1e3c5a" stroke-width="3.2"/>
<text transform="translate(352.30,323.30) scale(1.0128,1)" x="-1.97" y="0" font-size="30.29" font-weight="bold" fill="#1e3c5a" >N</text>
<ellipse cx="389.55" cy="378" rx="9" ry="9.6" fill="none" stroke="#1e3c5a" stroke-width="3.2"/>
<text transform="translate(313.30,390.90) scale(1.0128,1)" x="-1.97" y="0" font-size="30.29" font-weight="bold" fill="#1e3c5a" >N</text>
<text transform="translate(243.00,312.00) scale(1.2402,1)" x="-1.81" y="0" font-size="27.83" font-weight="bold" fill="#1e3c5a" >F</text>
<g fill="none" stroke="#1e3c5a" stroke-width="3.3" stroke-linecap="round" stroke-linejoin="round">
<path d="M180.3,232.6 L180.3,246.4"/>
<path d="M180.3,253.6 L180.3,400 M170.6,388 L180.3,402 L190,387.5"/>
<path d="M288.7,173.4 L368.4,173.4 C420,173.4 465,205 490.3,245"/>
<path d="M489.1,226.2 L490.3,246 L473.9,240.2"/>
<path d="M179.9,450 C180.5,485 185,512 225,511.8 M216.8,501.3 L225.4,511.8 L210.9,519.8"/>
<path d="M284.9,553.8 C295,575 315,586 337,588.5 M331.5,581 L337.6,588.7 L327.9,592.2"/>
<path d="M595,379.3 L595,444 M586.4,431 L595,444.8 L603.6,431.5 M595.3,424 C595.3,410 603,401 620.3,400.3"/>
<path d="M594.2,517.6 C594,545 585,565 550.3,582.6 C530,590 515,589 497.6,588.8 M509.9,580 L496.7,588.8 L511.6,597.5"/>
</g>
<clipPath id="dmpClip"><path d="M323.5,515.4 L323.4,518.2 L323.1,520.6 L322.6,522.8 L321.9,525.0 L321.0,527.0 L320.0,528.9 L318.7,530.8 L317.3,532.5 L315.7,534.2 L313.9,535.7 L312.0,537.2 L309.9,538.5 L307.7,539.8 L305.3,540.9 L302.7,541.9 L300.0,542.8 L297.2,543.6 L294.2,544.2 L291.1,544.8 L287.9,545.1 L284.4,545.4 L280.6,545.5 L276.1,545.5 L272.3,545.4 L268.8,545.1 L265.6,544.8 L262.5,544.2 L259.5,543.6 L256.7,542.8 L254.0,541.9 L251.4,540.9 L249.0,539.8 L246.8,538.5 L244.7,537.2 L242.8,535.7 L241.0,534.2 L239.4,532.5 L238.0,530.8 L236.7,528.9 L235.7,527.0 L234.8,525.0 L234.1,522.8 L233.6,520.6 L233.3,518.2 L233.3,515.4 L233.3,512.5 L233.6,510.1 L234.1,507.9 L234.8,505.7 L235.7,503.7 L236.7,501.8 L238.0,499.9 L239.4,498.2 L241.0,496.5 L242.8,495.0 L244.7,493.5 L246.8,492.2 L249.0,490.9 L251.4,489.8 L254.0,488.8 L256.7,487.9 L259.5,487.1 L262.5,486.5 L265.6,485.9 L268.8,485.6 L272.3,485.3 L276.1,485.2 L280.6,485.2 L284.4,485.3 L287.9,485.6 L291.1,485.9 L294.2,486.5 L297.2,487.1 L300.0,487.9 L302.7,488.8 L305.3,489.8 L307.7,490.9 L309.9,492.2 L312.0,493.5 L313.9,495.0 L315.7,496.5 L317.3,498.2 L318.7,499.9 L320.0,501.8 L321.0,503.7 L321.9,505.7 L322.6,507.9 L323.1,510.1 L323.4,512.5Z"/></clipPath>
<path d="M323.5,515.4 L323.4,518.2 L323.1,520.6 L322.6,522.8 L321.9,525.0 L321.0,527.0 L320.0,528.9 L318.7,530.8 L317.3,532.5 L315.7,534.2 L313.9,535.7 L312.0,537.2 L309.9,538.5 L307.7,539.8 L305.3,540.9 L302.7,541.9 L300.0,542.8 L297.2,543.6 L294.2,544.2 L291.1,544.8 L287.9,545.1 L284.4,545.4 L280.6,545.5 L276.1,545.5 L272.3,545.4 L268.8,545.1 L265.6,544.8 L262.5,544.2 L259.5,543.6 L256.7,542.8 L254.0,541.9 L251.4,540.9 L249.0,539.8 L246.8,538.5 L244.7,537.2 L242.8,535.7 L241.0,534.2 L239.4,532.5 L238.0,530.8 L236.7,528.9 L235.7,527.0 L234.8,525.0 L234.1,522.8 L233.6,520.6 L233.3,518.2 L233.3,515.4 L233.3,512.5 L233.6,510.1 L234.1,507.9 L234.8,505.7 L235.7,503.7 L236.7,501.8 L238.0,499.9 L239.4,498.2 L241.0,496.5 L242.8,495.0 L244.7,493.5 L246.8,492.2 L249.0,490.9 L251.4,489.8 L254.0,488.8 L256.7,487.9 L259.5,487.1 L262.5,486.5 L265.6,485.9 L268.8,485.6 L272.3,485.3 L276.1,485.2 L280.6,485.2 L284.4,485.3 L287.9,485.6 L291.1,485.9 L294.2,486.5 L297.2,487.1 L300.0,487.9 L302.7,488.8 L305.3,489.8 L307.7,490.9 L309.9,492.2 L312.0,493.5 L313.9,495.0 L315.7,496.5 L317.3,498.2 L318.7,499.9 L320.0,501.8 L321.0,503.7 L321.9,505.7 L322.6,507.9 L323.1,510.1 L323.4,512.5Z" fill="#f7dfba"/>
<g clip-path="url(#dmpClip)"><path d="M323.5,515.4 L323.4,518.2 L323.1,520.6 L322.6,522.8 L321.9,525.0 L321.0,527.0 L320.0,528.9 L318.7,530.8 L317.3,532.5 L315.7,534.2 L313.9,535.7 L312.0,537.2 L309.9,538.5 L307.7,539.8 L305.3,540.9 L302.7,541.9 L300.0,542.8 L297.2,543.6 L294.2,544.2 L291.1,544.8 L287.9,545.1 L284.4,545.4 L280.6,545.5 L276.1,545.5 L272.3,545.4 L268.8,545.1 L265.6,544.8 L262.5,544.2 L259.5,543.6 L256.7,542.8 L254.0,541.9 L251.4,540.9 L249.0,539.8 L246.8,538.5 L244.7,537.2 L242.8,535.7 L241.0,534.2 L239.4,532.5 L238.0,530.8 L236.7,528.9 L235.7,527.0 L234.8,525.0 L234.1,522.8 L233.6,520.6 L233.3,518.2 L233.3,515.4 L233.3,512.5 L233.6,510.1 L234.1,507.9 L234.8,505.7 L235.7,503.7 L236.7,501.8 L238.0,499.9 L239.4,498.2 L241.0,496.5 L242.8,495.0 L244.7,493.5 L246.8,492.2 L249.0,490.9 L251.4,489.8 L254.0,488.8 L256.7,487.9 L259.5,487.1 L262.5,486.5 L265.6,485.9 L268.8,485.6 L272.3,485.3 L276.1,485.2 L280.6,485.2 L284.4,485.3 L287.9,485.6 L291.1,485.9 L294.2,486.5 L297.2,487.1 L300.0,487.9 L302.7,488.8 L305.3,489.8 L307.7,490.9 L309.9,492.2 L312.0,493.5 L313.9,495.0 L315.7,496.5 L317.3,498.2 L318.7,499.9 L320.0,501.8 L321.0,503.7 L321.9,505.7 L322.6,507.9 L323.1,510.1 L323.4,512.5Z" fill="none" stroke="#efd2a2" stroke-width="12" transform="translate(0,-4)"/></g>
<path d="M323.5,515.4 L323.4,518.2 L323.1,520.6 L322.6,522.8 L321.9,525.0 L321.0,527.0 L320.0,528.9 L318.7,530.8 L317.3,532.5 L315.7,534.2 L313.9,535.7 L312.0,537.2 L309.9,538.5 L307.7,539.8 L305.3,540.9 L302.7,541.9 L300.0,542.8 L297.2,543.6 L294.2,544.2 L291.1,544.8 L287.9,545.1 L284.4,545.4 L280.6,545.5 L276.1,545.5 L272.3,545.4 L268.8,545.1 L265.6,544.8 L262.5,544.2 L259.5,543.6 L256.7,542.8 L254.0,541.9 L251.4,540.9 L249.0,539.8 L246.8,538.5 L244.7,537.2 L242.8,535.7 L241.0,534.2 L239.4,532.5 L238.0,530.8 L236.7,528.9 L235.7,527.0 L234.8,525.0 L234.1,522.8 L233.6,520.6 L233.3,518.2 L233.3,515.4 L233.3,512.5 L233.6,510.1 L234.1,507.9 L234.8,505.7 L235.7,503.7 L236.7,501.8 L238.0,499.9 L239.4,498.2 L241.0,496.5 L242.8,495.0 L244.7,493.5 L246.8,492.2 L249.0,490.9 L251.4,489.8 L254.0,488.8 L256.7,487.9 L259.5,487.1 L262.5,486.5 L265.6,485.9 L268.8,485.6 L272.3,485.3 L276.1,485.2 L280.6,485.2 L284.4,485.3 L287.9,485.6 L291.1,485.9 L294.2,486.5 L297.2,487.1 L300.0,487.9 L302.7,488.8 L305.3,489.8 L307.7,490.9 L309.9,492.2 L312.0,493.5 L313.9,495.0 L315.7,496.5 L317.3,498.2 L318.7,499.9 L320.0,501.8 L321.0,503.7 L321.9,505.7 L322.6,507.9 L323.1,510.1 L323.4,512.5Z" fill="none" stroke="#1e3c5a" stroke-width="3.4"/>
<path d="M349.3,564.2 L351.0,564.3 L352.7,564.6 L354.4,565.0 L356.1,565.5 L357.9,566.2 L359.6,567.0 L361.3,568.0 L363.0,569.1 L364.7,570.4 L366.4,571.7 L368.1,573.2 L369.8,574.8 L371.5,576.4 L373.2,578.2 L374.9,580.0 L376.7,581.9 L378.4,583.8 L380.1,585.8 L381.8,587.7 L383.5,589.8 L385.2,587.7 L386.9,585.8 L388.6,583.8 L390.3,581.9 L392.1,580.0 L393.8,578.2 L395.5,576.4 L397.2,574.8 L398.9,573.2 L400.6,571.7 L402.3,570.4 L404.0,569.1 L405.7,568.0 L407.4,567.0 L409.2,566.2 L410.9,565.5 L412.6,565.0 L414.3,564.6 L416.0,564.3 L417.7,564.2 L419.4,564.3 L421.1,564.6 L422.8,565.0 L424.5,565.5 L426.2,566.2 L428.0,567.0 L429.7,568.0 L431.4,569.1 L433.1,570.4 L434.8,571.7 L436.5,573.2 L438.2,574.8 L439.9,576.4 L441.6,578.2 L443.4,580.0 L445.1,581.9 L446.8,583.8 L448.5,585.8 L450.2,587.7 L451.9,589.8 L453.6,587.7 L455.3,585.8 L457.0,583.8 L458.7,581.9 L460.5,580.0 L462.2,578.2 L463.9,576.4 L465.6,574.8 L467.3,573.2 L469.0,571.7 L470.7,570.4 L472.4,569.1 L474.1,568.0 L475.8,567.0 L477.6,566.2 L479.3,565.5 L481.0,565.0 L482.7,564.6 L484.4,564.3 L486.1,564.2 L486.1,615.2 L484.4,615.2 L482.7,614.9 L481.0,614.5 L479.3,614.0 L477.6,613.3 L475.8,612.5 L474.1,611.5 L472.4,610.4 L470.7,609.1 L469.0,607.8 L467.3,606.3 L465.6,604.7 L463.9,603.1 L462.2,601.3 L460.5,599.5 L458.7,597.6 L457.0,595.7 L455.3,593.7 L453.6,591.8 L451.9,589.8 L450.2,591.8 L448.5,593.7 L446.8,595.7 L445.1,597.6 L443.4,599.5 L441.6,601.3 L439.9,603.1 L438.2,604.7 L436.5,606.3 L434.8,607.8 L433.1,609.1 L431.4,610.4 L429.7,611.5 L428.0,612.5 L426.2,613.3 L424.5,614.0 L422.8,614.5 L421.1,614.9 L419.4,615.2 L417.7,615.2 L416.0,615.2 L414.3,614.9 L412.6,614.5 L410.9,614.0 L409.2,613.3 L407.4,612.5 L405.7,611.5 L404.0,610.4 L402.3,609.1 L400.6,607.8 L398.9,606.3 L397.2,604.7 L395.5,603.1 L393.8,601.3 L392.1,599.5 L390.3,597.6 L388.6,595.7 L386.9,593.7 L385.2,591.8 L383.5,589.8 L381.8,591.8 L380.1,593.7 L378.4,595.7 L376.7,597.6 L374.9,599.5 L373.2,601.3 L371.5,603.1 L369.8,604.7 L368.1,606.3 L366.4,607.8 L364.7,609.1 L363.0,610.4 L361.3,611.5 L359.6,612.5 L357.9,613.3 L356.1,614.0 L354.4,614.5 L352.7,614.9 L351.0,615.2 L349.3,615.2Z" fill="#edf3f4"/>
<rect x="351.6" y="564.3" width="4.5" height="51.0" fill="#f3ead3"/>
<rect x="363.3" y="568.1" width="4.5" height="43.2" fill="#f3ead3"/>
<rect x="374.1" y="577.2" width="4.5" height="25.1" fill="#f3ead3"/>
<rect x="406.3" y="568.8" width="4.5" height="41.9" fill="#f3ead3"/>
<rect x="416.3" y="564.5" width="4.5" height="50.5" fill="#f3ead3"/>
<rect x="428.1" y="566.2" width="4.5" height="47.1" fill="#f3ead3"/>
<rect x="438.0" y="572.9" width="4.5" height="33.7" fill="#f3ead3"/>
<rect x="466.0" y="576.1" width="4.5" height="27.3" fill="#f3ead3"/>
<rect x="476.6" y="567.6" width="4.5" height="44.3" fill="#f3ead3"/>
<line x1="349.8" y1="564.3" x2="349.8" y2="615.2" stroke="#1e3c5a" stroke-width="3.5"/>
<line x1="361.5" y1="568.1" x2="361.5" y2="611.4" stroke="#1e3c5a" stroke-width="3.5"/>
<line x1="372.3" y1="577.2" x2="372.3" y2="602.3" stroke="#1e3c5a" stroke-width="3.5"/>
<line x1="404.5" y1="610.7" x2="404.5" y2="568.8" stroke="#1e3c5a" stroke-width="3.5"/>
<line x1="414.5" y1="615.0" x2="414.5" y2="564.5" stroke="#1e3c5a" stroke-width="3.5"/>
<line x1="426.3" y1="613.3" x2="426.3" y2="566.2" stroke="#1e3c5a" stroke-width="3.5"/>
<line x1="436.2" y1="606.6" x2="436.2" y2="572.9" stroke="#1e3c5a" stroke-width="3.5"/>
<line x1="464.2" y1="576.1" x2="464.2" y2="603.4" stroke="#1e3c5a" stroke-width="3.5"/>
<line x1="474.8" y1="567.6" x2="474.8" y2="611.9" stroke="#1e3c5a" stroke-width="3.5"/>
<line x1="484.5" y1="564.3" x2="484.5" y2="615.2" stroke="#1e3c5a" stroke-width="3.5"/>
<path d="M338.5,566.8 L339.8,566.8 L341.1,566.8 L342.5,566.8 L343.8,566.8 L345.1,566.8 L346.4,566.8 L347.8,566.8 L349.1,566.8 L350.2,567.9 L351.2,568.2 L352.3,568.6 L353.3,569.0 L354.3,569.5 L355.3,570.1 L356.3,570.7 L357.4,571.4 L358.4,572.2 L359.5,573.1 L360.5,574.0 L361.6,575.0 L362.7,576.0 L363.8,577.2 L365.0,578.3 L366.1,579.6 L367.3,580.9 L368.5,582.2 L369.7,583.6 L370.9,585.0 L372.1,586.5 L373.4,588.0 L374.6,589.5 L375.9,591.0 L377.2,592.5 L378.5,594.1 L379.9,595.6 L381.2,597.2 L382.6,598.7 L384.0,600.3 L385.4,601.8 L386.8,603.2 L388.2,604.7 L389.7,606.1 L391.1,607.4 L392.6,608.7 L394.1,610.0 L395.6,611.2 L397.2,612.3 L398.7,613.4 L400.3,614.3 L401.9,615.2 L403.5,616.1 L405.1,616.8 L406.7,617.4 L408.3,617.9 L410.0,618.3 L411.6,618.6 L413.2,618.8 L414.9,618.9 L416.5,618.9 L418.1,618.8 L417.9,611.7 L416.9,611.6 L415.8,611.3 L414.8,610.9 L413.8,610.5 L412.8,610.0 L411.8,609.5 L410.7,608.8 L409.7,608.1 L408.7,607.3 L407.6,606.5 L406.6,605.6 L405.5,604.6 L404.4,603.5 L403.3,602.4 L402.1,601.3 L401.0,600.0 L399.8,598.7 L398.6,597.4 L397.4,596.0 L396.2,594.6 L395.0,593.1 L393.7,591.7 L392.5,590.1 L391.2,588.6 L389.9,587.1 L388.6,585.5 L387.2,584.0 L385.9,582.4 L384.5,580.9 L383.1,579.4 L381.7,577.9 L380.3,576.4 L378.9,574.9 L377.4,573.5 L376.0,572.2 L374.5,570.9 L373.0,569.6 L371.5,568.4 L369.9,567.3 L368.4,566.2 L366.8,565.2 L365.2,564.3 L363.6,563.5 L362.0,562.8 L360.4,562.1 L358.8,561.6 L357.1,561.2 L355.5,560.9 L353.9,560.7 L352.3,560.6 L350.6,560.6 L349.1,561.8 L347.8,561.8 L346.4,561.8 L345.1,561.8 L343.8,561.8 L342.5,561.8 L341.1,561.8 L339.8,561.8 L338.5,561.8Z" fill="#1e3c5a"/><path d="M338.5,564.2 L339.8,564.2 L341.1,564.2 L342.5,564.2 L343.8,564.2 L345.1,564.2 L346.4,564.2 L347.8,564.2 L349.1,564.2 L350.3,565.6 L351.6,565.9 L352.8,566.2 L353.9,566.6 L355.1,567.1 L356.3,567.7 L357.5,568.4 L358.6,569.1 L359.8,569.9 L361.0,570.8 L362.2,571.7 L363.3,572.7 L364.5,573.8 L365.7,575.0 L366.9,576.2 L368.2,577.4 L369.4,578.8 L370.6,580.1 L371.9,581.5 L373.1,583.0 L374.4,584.4 L375.7,585.9 L377.0,587.4 L378.3,589.0 L379.6,590.5 L380.9,592.1 L382.2,593.6 L383.6,595.2 L384.9,596.7 L386.3,598.2 L387.6,599.7 L389.0,601.2 L390.4,602.6 L391.8,604.0 L393.2,605.3 L394.7,606.6 L396.1,607.8 L397.5,609.0 L399.0,610.1 L400.4,611.1 L401.9,612.1 L403.4,613.0 L404.9,613.7 L406.3,614.4 L407.8,615.0 L409.3,615.5 L410.8,615.9 L412.3,616.2 L413.7,616.4 L415.2,616.5 L416.6,616.5 L418.0,616.5 L418.0,614.0 L416.7,613.9 L415.5,613.7 L414.3,613.3 L413.1,612.9 L412.0,612.4 L410.8,611.8 L409.6,611.2 L408.5,610.5 L407.3,609.7 L406.1,608.8 L404.9,607.8 L403.8,606.8 L402.6,605.8 L401.4,604.6 L400.2,603.4 L398.9,602.2 L397.7,600.8 L396.5,599.5 L395.2,598.1 L394.0,596.7 L392.7,595.2 L391.4,593.7 L390.1,592.2 L388.8,590.6 L387.5,589.1 L386.2,587.5 L384.9,586.0 L383.5,584.4 L382.2,582.9 L380.8,581.4 L379.5,579.9 L378.1,578.4 L376.7,577.0 L375.3,575.6 L373.9,574.3 L372.4,573.0 L371.0,571.8 L369.6,570.6 L368.1,569.5 L366.7,568.4 L365.2,567.5 L363.7,566.6 L362.3,565.8 L360.8,565.1 L359.3,564.5 L357.8,564.0 L356.3,563.6 L354.9,563.3 L353.4,563.1 L351.9,563.0 L350.5,563.0 L349.1,564.2 L347.8,564.2 L346.4,564.2 L345.1,564.2 L343.8,564.2 L342.5,564.2 L341.1,564.2 L339.8,564.2 L338.5,564.2Z" fill="#e8cf94"/>
<path d="M417.5,567.8 L418.5,567.9 L419.5,568.2 L420.4,568.5 L421.4,568.9 L422.4,569.4 L423.3,569.9 L424.3,570.5 L425.3,571.1 L426.3,571.8 L427.3,572.6 L428.3,573.4 L429.3,574.3 L430.3,575.3 L431.4,576.3 L432.4,577.4 L433.5,578.5 L434.6,579.7 L435.7,580.9 L436.8,582.2 L438.0,583.5 L439.1,584.9 L440.3,586.2 L441.5,587.7 L442.7,589.1 L443.9,590.5 L445.2,592.0 L446.4,593.5 L447.7,594.9 L448.9,596.4 L450.2,597.9 L451.5,599.3 L452.9,600.8 L454.2,602.2 L455.5,603.6 L456.9,605.0 L458.3,606.3 L459.7,607.6 L461.1,608.8 L462.5,610.0 L464.0,611.1 L465.4,612.2 L466.9,613.2 L468.4,614.2 L469.9,615.0 L471.4,615.8 L473.0,616.6 L474.5,617.2 L476.0,617.7 L477.6,618.2 L479.2,618.5 L480.7,618.7 L482.3,618.9 L483.8,618.9 L485.3,618.8 L486.7,617.8 L488.0,617.8 L489.2,617.8 L490.5,617.8 L491.7,617.8 L493.0,617.8 L493.0,612.8 L491.7,612.8 L490.5,612.8 L489.2,612.8 L488.0,612.8 L486.7,612.8 L485.6,611.6 L484.6,611.4 L483.6,611.1 L482.6,610.7 L481.6,610.3 L480.7,609.8 L479.7,609.2 L478.7,608.6 L477.8,607.9 L476.8,607.1 L475.8,606.3 L474.8,605.4 L473.7,604.5 L472.7,603.4 L471.6,602.4 L470.5,601.3 L469.5,600.1 L468.3,598.9 L467.2,597.6 L466.1,596.3 L464.9,595.0 L463.8,593.6 L462.6,592.2 L461.4,590.8 L460.2,589.3 L458.9,587.8 L457.7,586.4 L456.4,584.9 L455.2,583.4 L453.9,582.0 L452.6,580.5 L451.3,579.1 L449.9,577.6 L448.6,576.2 L447.2,574.9 L445.8,573.5 L444.4,572.2 L443.0,571.0 L441.6,569.8 L440.2,568.6 L438.7,567.5 L437.2,566.5 L435.8,565.5 L434.3,564.7 L432.7,563.8 L431.2,563.1 L429.7,562.5 L428.1,561.9 L426.6,561.4 L425.0,561.1 L423.5,560.8 L421.9,560.6 L420.4,560.6 L418.8,560.6 L417.3,560.7Z" fill="#1e3c5a"/><path d="M417.4,565.5 L418.6,565.6 L419.8,565.8 L420.9,566.1 L422.0,566.5 L423.1,567.0 L424.3,567.5 L425.4,568.1 L426.5,568.7 L427.6,569.5 L428.7,570.3 L429.8,571.1 L430.9,572.1 L432.1,573.1 L433.2,574.1 L434.4,575.2 L435.5,576.4 L436.7,577.6 L437.8,578.8 L439.0,580.1 L440.2,581.4 L441.4,582.8 L442.6,584.2 L443.8,585.6 L445.0,587.1 L446.3,588.5 L447.5,590.0 L448.8,591.5 L450.0,592.9 L451.3,594.4 L452.6,595.9 L453.9,597.3 L455.2,598.8 L456.5,600.2 L457.8,601.5 L459.1,602.9 L460.5,604.2 L461.8,605.5 L463.2,606.7 L464.5,607.8 L465.9,609.0 L467.3,610.0 L468.6,611.0 L470.0,611.9 L471.4,612.8 L472.8,613.5 L474.2,614.2 L475.7,614.8 L477.1,615.3 L478.5,615.8 L479.9,616.1 L481.3,616.3 L482.7,616.5 L484.0,616.5 L485.4,616.5 L486.7,615.2 L488.0,615.2 L489.2,615.2 L490.5,615.2 L491.7,615.2 L493.0,615.2 L493.0,615.2 L491.7,615.2 L490.5,615.2 L489.2,615.2 L488.0,615.2 L486.7,615.2 L485.5,614.0 L484.3,613.8 L483.2,613.5 L482.0,613.1 L480.9,612.7 L479.8,612.2 L478.7,611.6 L477.6,610.9 L476.5,610.2 L475.4,609.4 L474.2,608.6 L473.1,607.7 L472.0,606.7 L470.9,605.7 L469.7,604.6 L468.6,603.4 L467.4,602.2 L466.2,601.0 L465.1,599.7 L463.9,598.4 L462.7,597.0 L461.5,595.6 L460.3,594.2 L459.1,592.8 L457.8,591.3 L456.6,589.9 L455.3,588.4 L454.1,586.9 L452.8,585.4 L451.5,584.0 L450.2,582.5 L448.9,581.1 L447.6,579.7 L446.3,578.3 L445.0,576.9 L443.7,575.6 L442.3,574.3 L441.0,573.1 L439.6,571.9 L438.2,570.8 L436.9,569.7 L435.5,568.7 L434.1,567.8 L432.7,566.9 L431.3,566.2 L429.9,565.4 L428.5,564.8 L427.1,564.3 L425.7,563.8 L424.3,563.5 L422.9,563.2 L421.5,563.0 L420.1,563.0 L418.7,563.0 L417.4,563.0Z" fill="#a9c4df"/>
<path d="M338.5,617.8 L339.8,617.8 L341.1,617.8 L342.5,617.8 L343.8,617.8 L345.1,617.8 L346.4,617.8 L347.8,617.8 L349.1,617.8 L350.6,618.9 L352.3,618.9 L353.9,618.8 L355.5,618.6 L357.1,618.3 L358.8,617.9 L360.4,617.4 L362.0,616.7 L363.6,616.0 L365.2,615.2 L366.8,614.3 L368.4,613.3 L369.9,612.2 L371.5,611.1 L373.0,609.9 L374.5,608.6 L376.0,607.3 L377.4,606.0 L378.9,604.6 L380.3,603.1 L381.7,601.6 L383.1,600.1 L384.5,598.6 L385.9,597.1 L387.2,595.5 L388.6,594.0 L389.9,592.4 L391.2,590.9 L392.5,589.4 L393.7,587.8 L395.0,586.4 L396.2,584.9 L397.4,583.5 L398.6,582.1 L399.8,580.8 L401.0,579.5 L402.1,578.2 L403.3,577.1 L404.4,576.0 L405.5,574.9 L406.6,573.9 L407.6,573.0 L408.7,572.2 L409.7,571.4 L410.7,570.7 L411.8,570.0 L412.8,569.5 L413.8,569.0 L414.8,568.6 L415.8,568.2 L416.9,567.9 L417.9,567.8 L418.1,560.7 L416.5,560.6 L414.9,560.6 L413.2,560.7 L411.6,560.9 L410.0,561.2 L408.3,561.6 L406.7,562.1 L405.1,562.7 L403.5,563.4 L401.9,564.3 L400.3,565.2 L398.7,566.1 L397.2,567.2 L395.6,568.3 L394.1,569.5 L392.6,570.8 L391.1,572.1 L389.7,573.4 L388.2,574.8 L386.8,576.3 L385.4,577.7 L384.0,579.2 L382.6,580.8 L381.2,582.3 L379.9,583.9 L378.5,585.4 L377.2,587.0 L375.9,588.5 L374.6,590.0 L373.4,591.5 L372.1,593.0 L370.9,594.5 L369.7,595.9 L368.5,597.3 L367.3,598.6 L366.1,599.9 L365.0,601.2 L363.8,602.3 L362.7,603.5 L361.6,604.5 L360.5,605.5 L359.5,606.4 L358.4,607.3 L357.4,608.1 L356.3,608.8 L355.3,609.4 L354.3,610.0 L353.3,610.5 L352.3,610.9 L351.2,611.3 L350.2,611.6 L349.1,612.8 L347.8,612.8 L346.4,612.8 L345.1,612.8 L343.8,612.8 L342.5,612.8 L341.1,612.8 L339.8,612.8 L338.5,612.8Z" fill="#1e3c5a"/><path d="M338.5,615.2 L339.8,615.2 L341.1,615.2 L342.5,615.2 L343.8,615.2 L345.1,615.2 L346.4,615.2 L347.8,615.2 L349.1,615.2 L350.5,616.5 L351.9,616.5 L353.4,616.4 L354.9,616.2 L356.3,615.9 L357.8,615.5 L359.3,615.0 L360.8,614.4 L362.3,613.7 L363.7,612.9 L365.2,612.0 L366.7,611.1 L368.1,610.0 L369.6,608.9 L371.0,607.7 L372.4,606.5 L373.9,605.2 L375.3,603.9 L376.7,602.5 L378.1,601.1 L379.5,599.6 L380.8,598.1 L382.2,596.6 L383.5,595.1 L384.9,593.5 L386.2,592.0 L387.5,590.4 L388.8,588.9 L390.1,587.3 L391.4,585.8 L392.7,584.3 L394.0,582.8 L395.2,581.4 L396.5,580.0 L397.7,578.7 L398.9,577.3 L400.2,576.1 L401.4,574.9 L402.6,573.7 L403.8,572.7 L404.9,571.7 L406.1,570.7 L407.3,569.8 L408.5,569.0 L409.6,568.3 L410.8,567.7 L412.0,567.1 L413.1,566.6 L414.3,566.2 L415.5,565.8 L416.7,565.6 L418.0,565.5 L418.0,563.0 L416.6,563.0 L415.2,563.0 L413.7,563.1 L412.3,563.3 L410.8,563.6 L409.3,564.0 L407.8,564.5 L406.3,565.1 L404.9,565.8 L403.4,566.5 L401.9,567.4 L400.4,568.4 L399.0,569.4 L397.5,570.5 L396.1,571.7 L394.7,572.9 L393.2,574.2 L391.8,575.5 L390.4,576.9 L389.0,578.3 L387.6,579.8 L386.3,581.3 L384.9,582.8 L383.6,584.3 L382.2,585.9 L380.9,587.4 L379.6,589.0 L378.3,590.5 L377.0,592.1 L375.7,593.6 L374.4,595.1 L373.1,596.5 L371.9,598.0 L370.6,599.4 L369.4,600.7 L368.2,602.1 L366.9,603.3 L365.7,604.5 L364.5,605.7 L363.3,606.8 L362.2,607.8 L361.0,608.7 L359.8,609.6 L358.6,610.4 L357.5,611.1 L356.3,611.8 L355.1,612.4 L353.9,612.9 L352.8,613.3 L351.6,613.6 L350.3,613.9 L349.1,615.2 L347.8,615.2 L346.4,615.2 L345.1,615.2 L343.8,615.2 L342.5,615.2 L341.1,615.2 L339.8,615.2 L338.5,615.2Z" fill="#a9c4df"/>
<path d="M417.3,618.8 L418.8,618.9 L420.4,618.9 L421.9,618.9 L423.5,618.7 L425.0,618.4 L426.6,618.1 L428.1,617.6 L429.7,617.0 L431.2,616.4 L432.7,615.7 L434.3,614.8 L435.8,614.0 L437.2,613.0 L438.7,612.0 L440.2,610.9 L441.6,609.7 L443.0,608.5 L444.4,607.3 L445.8,606.0 L447.2,604.6 L448.6,603.3 L449.9,601.9 L451.3,600.4 L452.6,599.0 L453.9,597.5 L455.2,596.1 L456.4,594.6 L457.7,593.1 L458.9,591.7 L460.2,590.2 L461.4,588.7 L462.6,587.3 L463.8,585.9 L464.9,584.5 L466.1,583.2 L467.2,581.9 L468.3,580.6 L469.5,579.4 L470.5,578.2 L471.6,577.1 L472.7,576.1 L473.7,575.0 L474.8,574.1 L475.8,573.2 L476.8,572.4 L477.8,571.6 L478.7,570.9 L479.7,570.3 L480.7,569.7 L481.6,569.2 L482.6,568.8 L483.6,568.4 L484.6,568.1 L485.6,567.9 L486.7,566.8 L488.0,566.8 L489.2,566.8 L490.5,566.8 L491.7,566.8 L493.0,566.8 L493.0,561.8 L491.7,561.8 L490.5,561.8 L489.2,561.8 L488.0,561.8 L486.7,561.8 L485.3,560.7 L483.8,560.6 L482.3,560.6 L480.7,560.8 L479.2,561.0 L477.6,561.3 L476.0,561.8 L474.5,562.3 L473.0,562.9 L471.4,563.7 L469.9,564.5 L468.4,565.3 L466.9,566.3 L465.4,567.3 L464.0,568.4 L462.5,569.5 L461.1,570.7 L459.7,571.9 L458.3,573.2 L456.9,574.5 L455.5,575.9 L454.2,577.3 L452.9,578.7 L451.5,580.2 L450.2,581.6 L448.9,583.1 L447.7,584.6 L446.4,586.0 L445.2,587.5 L443.9,589.0 L442.7,590.4 L441.5,591.8 L440.3,593.3 L439.1,594.6 L438.0,596.0 L436.8,597.3 L435.7,598.6 L434.6,599.8 L433.5,601.0 L432.4,602.1 L431.4,603.2 L430.3,604.2 L429.3,605.2 L428.3,606.1 L427.3,606.9 L426.3,607.7 L425.3,608.4 L424.3,609.0 L423.3,609.6 L422.4,610.1 L421.4,610.6 L420.4,611.0 L419.5,611.3 L418.5,611.6 L417.5,611.7Z" fill="#1e3c5a"/><path d="M417.4,616.5 L418.7,616.5 L420.1,616.5 L421.5,616.5 L422.9,616.3 L424.3,616.0 L425.7,615.7 L427.1,615.2 L428.5,614.7 L429.9,614.1 L431.3,613.3 L432.7,612.6 L434.1,611.7 L435.5,610.8 L436.9,609.8 L438.2,608.7 L439.6,607.6 L441.0,606.4 L442.3,605.2 L443.7,603.9 L445.0,602.6 L446.3,601.2 L447.6,599.8 L448.9,598.4 L450.2,597.0 L451.5,595.5 L452.8,594.1 L454.1,592.6 L455.3,591.1 L456.6,589.6 L457.8,588.2 L459.1,586.7 L460.3,585.3 L461.5,583.9 L462.7,582.5 L463.9,581.1 L465.1,579.8 L466.2,578.5 L467.4,577.3 L468.6,576.1 L469.7,574.9 L470.9,573.8 L472.0,572.8 L473.1,571.8 L474.2,570.9 L475.4,570.1 L476.5,569.3 L477.6,568.6 L478.7,567.9 L479.8,567.3 L480.9,566.8 L482.0,566.4 L483.2,566.0 L484.3,565.7 L485.5,565.5 L486.7,564.2 L488.0,564.2 L489.2,564.2 L490.5,564.2 L491.7,564.2 L493.0,564.2 L493.0,564.2 L491.7,564.2 L490.5,564.2 L489.2,564.2 L488.0,564.2 L486.7,564.2 L485.4,563.0 L484.0,563.0 L482.7,563.0 L481.3,563.2 L479.9,563.4 L478.5,563.7 L477.1,564.2 L475.7,564.7 L474.2,565.3 L472.8,566.0 L471.4,566.7 L470.0,567.6 L468.6,568.5 L467.3,569.5 L465.9,570.5 L464.5,571.7 L463.2,572.8 L461.8,574.0 L460.5,575.3 L459.1,576.6 L457.8,578.0 L456.5,579.3 L455.2,580.7 L453.9,582.2 L452.6,583.6 L451.3,585.1 L450.0,586.6 L448.8,588.0 L447.5,589.5 L446.3,591.0 L445.0,592.4 L443.8,593.9 L442.6,595.3 L441.4,596.7 L440.2,598.1 L439.0,599.4 L437.8,600.7 L436.7,601.9 L435.5,603.1 L434.4,604.3 L433.2,605.4 L432.1,606.4 L430.9,607.4 L429.8,608.4 L428.7,609.2 L427.6,610.0 L426.5,610.8 L425.4,611.4 L424.3,612.0 L423.1,612.5 L422.0,613.0 L420.9,613.4 L419.8,613.7 L418.6,613.9 L417.4,614.0Z" fill="#e8cf94"/>
<text transform="translate(165.00,70.30) scale(0.9889,1)" x="-1.33" y="0" font-size="44.49" font-weight="bold" fill="#1e3c5a" >5</text>
<rect x="193.7" y="53" width="17.8" height="5.2" fill="#1e3c5a"/>
<text transform="translate(217.00,70.30) scale(0.9438,1)" x="-2.89" y="0" font-size="44.49" font-weight="bold" fill="#1e3c5a" >FU</text>
<text transform="translate(588.80,68.10) scale(0.9324,1)" x="-1.67" y="0" font-size="41.86" font-weight="bold" fill="#1e3c5a" >CANCER CELL</text>
<text transform="translate(130.40,438.30) scale(0.9972,1)" x="-2.09" y="0" font-size="32.14" font-weight="bold" fill="#1e3c5a" >FdUMP</text>
<text transform="translate(275.90,438.30) scale(0.9786,1)" x="-2.09" y="0" font-size="32.14" font-weight="bold" fill="#1e3c5a" >FdUMP</text>
<text transform="translate(186.10,588.60) scale(0.9550,1)" x="-2.20" y="0" font-size="33.91" font-weight="bold" fill="#1e3c5a" >DNA</text>
<text transform="translate(151.70,619.80) scale(0.9620,1)" x="-1.09" y="0" font-size="31.17" font-weight="bold" fill="#1e3c5a" >synthesis</text>
<text transform="translate(549.70,233.40) scale(0.9695,1)" x="-0.28" y="0" font-size="27.86" font-weight="bold" fill="#1e3c5a" >Thymidylate</text>
<text transform="translate(571.60,262.40) scale(0.9619,1)" x="-0.98" y="0" font-size="27.86" font-weight="bold" fill="#1e3c5a" >synthase</text>
<text transform="translate(767.50,222.50) scale(0.9765,1)" x="-1.97" y="0" font-size="30.34" font-weight="bold" fill="#1e3c5a" >Folate</text>
<text transform="translate(755.00,253.30) scale(0.9768,1)" x="-1.21" y="0" font-size="30.34" font-weight="bold" fill="#1e3c5a" >cofactor</text>
<text transform="translate(631.70,413.90) scale(0.9915,1)" x="-1.29" y="0" font-size="32.28" font-weight="bold" fill="#1e3c5a" >dTMP</text>
<text transform="translate(564.40,477.60) scale(1.0546,1)" x="-1.98" y="0" font-size="30.43" font-weight="bold" fill="#1e3c5a" >DNA</text>
<text transform="translate(529.30,508.00) scale(0.9570,1)" x="-1.06" y="0" font-size="30.34" font-weight="bold" fill="#1e3c5a" >synthesis</text>
<text transform="translate(690.50,547.00) scale(0.9221,1)" x="-0.82" y="0" font-size="32.83" font-weight="bold" fill="#1e3c5a" >Apoptosis</text>
<text transform="translate(244.60,528.30) scale(1.0672,1)" x="-1.24" y="0" font-size="30.90" font-weight="bold" fill="#1e3c5a" >dMP</text>
</svg>
</body></html>
